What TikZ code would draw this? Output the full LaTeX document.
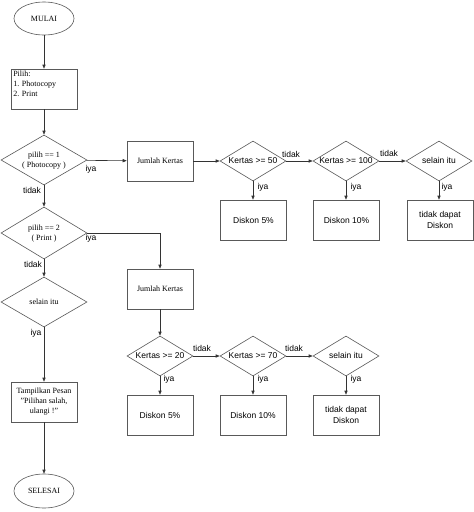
\documentclass[tikz,border=0pt]{standalone}
\usepackage{fontspec}
\setmainfont{Liberation Serif}
\newfontfamily\arialf{Liberation Sans}
\usetikzlibrary{shapes.geometric,arrows.meta}
\newcommand{\zw}[1]{\makebox[0pt]{\begin{tabular}{@{}c@{}}#1\end{tabular}}}
\begin{document}
\begin{tikzpicture}[x=1pt,y=-1pt,
  line width=0.6pt,
  ser/.style={font=\fontsize{8}{10}\selectfont},
  san/.style={font=\arialf\fontsize{8.5}{11}\selectfont},
  box/.style={draw=black!65, rectangle, minimum width=66pt, minimum height=40pt, inner sep=0pt, align=center},
  dia/.style={draw=black!65, diamond, minimum width=66pt, minimum height=40pt, inner sep=0pt},
  term/.style={draw=black!65, ellipse, minimum width=60pt, minimum height=33pt, inner sep=0pt, ser},
  arr/.style={draw=black!80, -{Triangle[length=4pt,width=3.2pt]}},
  lbl/.style={san, inner sep=0pt}
]
\useasboundingbox[fill=white] (0,0) rectangle (474,512);

% left column
\node[term] (mulai) at (44,18.5) {MULAI};
\node[box] (pilih) at (44,89) {};
\node[ser, anchor=north west, align=left, inner sep=0pt] (piltxt) at (13,70.5) {Pilih:\\1. Photocopy\\2. Print};
\node[dia, ser, minimum width=86pt, minimum height=50pt] (d1) at (44,160) {\zw{pilih == 1\\( Photocopy )}};
\node[dia, ser, minimum width=86pt, minimum height=52pt] (d2) at (44,233) {\zw{pilih == 2\\( Print )}};
\node[dia, ser, minimum width=86pt, minimum height=50pt] (d3) at (44,302) {\zw{selain itu}};
\node[box, ser] (tampil) at (44,402) {Tampilkan Pesan\\"Pilihan salah,\\ulangi !"};
\node[term, minimum height=34pt] (selesai) at (44,491) {SELESAI};

\draw[arr] (mulai) -- (pilih);
\draw[arr] (pilih) -- (d1);
\draw[arr] (d1) -- (d2);
\draw[arr] (d2) -- (d3);
\draw[arr] (d3) -- (tampil);
\draw[arr] (tampil) -- (selesai);

\node[lbl] (l1) at (91,169) {iya};
\node[lbl] (l2) at (32,190) {tidak};
\node[lbl] (l3) at (91,238) {iya};
\node[lbl] (l4) at (33,264) {tidak};
\node[lbl] (l5) at (36,333) {iya};

% top branch
\node[box, ser] (jk1) at (160,161) {Jumlah Kertas};
\node[dia, san] (t1) at (253,161) {\zw{Kertas >= 50}};
\node[dia, san] (t2) at (346,161) {\zw{Kertas >= 100}};
\node[dia, san] (t3) at (439,161) {\zw{selain itu}};
\node[box, san] (b1) at (253.5,220) {Diskon 5\%};
\node[box, san] (b2) at (346.5,220) {Diskon 10\%};
\node[box, san] (b3) at (440,220) {tidak dapat\\Diskon};

\draw[arr] (d1) -- (jk1);
\draw[arr] (jk1) -- (t1);
\draw[arr] (t1) -- (t2);
\draw[arr] (t2) -- (t3);
\draw[arr] (t1.south) -- (t1.south |- b1.north);
\draw[arr] (t2.south) -- (t2.south |- b2.north);
\draw[arr] (t3.south) -- (t3.south |- b3.north);

\node[lbl] (l6) at (291,154) {tidak};
\node[lbl] (l7) at (389,153) {tidak};
\node[lbl] (l8) at (263,187) {iya};
\node[lbl] (l9) at (356,187) {iya};
\node[lbl] (l10) at (447,187) {iya};

% bottom branch
\node[box, ser] (jk2) at (160,289) {Jumlah Kertas};
\node[dia, san] (u1) at (160,356) {\zw{Kertas >= 20}};
\node[dia, san] (u2) at (253,356) {\zw{Kertas >= 70}};
\node[dia, san] (u3) at (346,356) {\zw{selain itu}};
\node[box, san] (c1) at (160,415) {Diskon 5\%};
\node[box, san] (c2) at (253,415) {Diskon 10\%};
\node[box, san] (c3) at (346,415) {tidak dapat\\Diskon};

\draw[arr] (d2.east) -| (jk2.north);
\draw[arr] (jk2) -- (u1);
\draw[arr] (u1) -- (u2);
\draw[arr] (u2) -- (u3);
\draw[arr] (u1) -- (c1);
\draw[arr] (u2) -- (c2);
\draw[arr] (u3) -- (c3);

\node[lbl] (l11) at (202,348) {tidak};
\node[lbl] (l12) at (294,348) {tidak};
\node[lbl] (l13) at (169,379) {iya};
\node[lbl] (l14) at (263,379) {iya};
\node[lbl] (l15) at (356,379) {iya};
\end{tikzpicture}
\end{document}
